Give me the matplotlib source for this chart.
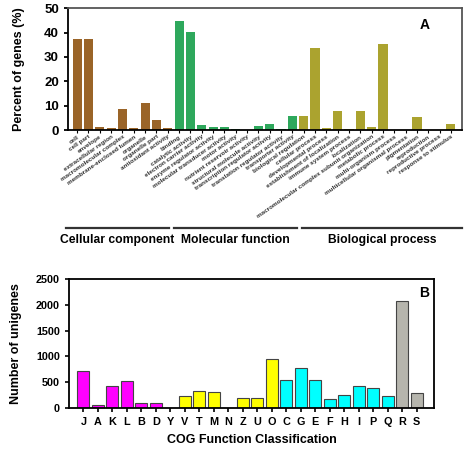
import matplotlib.pyplot as plt
import matplotlib.transforms as mtransforms

plt.rcParams['font.family'] = ['Liberation Sans', 'DejaVu Sans']
plt.rcParams['font.weight'] = 'bold'
plt.rcParams['axes.labelweight'] = 'bold'

# ---- panel A data: GO classification ----
go_terms = ['cell', 'cell part', 'envelope', 'extracellular region',
            'macromolecular complex', 'membrane-enclosed lumen', 'organelle',
            'organelle part', 'antioxidant activity', 'binding',
            'catalytic activity', 'electron carrier activity',
            'enzyme regulator activity', 'molecular transducer activity',
            'motor activity', 'nutrient reservoir activity',
            'structural molecule activity', 'transcription regulator activity',
            'translation regulator activity', 'transporter activity',
            'biological regulation', 'cellular process', 'developmental process',
            'establishment of localization', 'immune system process',
            'localization', 'macromolecular complex subunit organization',
            'metabolic process', 'multi-organism process',
            'multicellular organismal process', 'pigmentation', 'reproduction',
            'reproductive process', 'response to stimulus']
go_percent = [37.3, 37.3, 1.2, 0.7, 8.8, 0.7, 11.1, 4.1, 0.7, 44.8,
              40.3, 2.0, 1.1, 1.1, 0.5, 0.2, 1.6, 2.3, 0.5, 5.6,
              5.6, 33.6, 0.8, 7.7, 0.4, 7.8, 1.1, 35.3, 0.1, 0.1,
              5.2, 0.1, 0.1, 2.6]
go_group = ['C'] * 9 + ['M'] * 11 + ['B'] * 14
go_colors = {'C': '#9a6428', 'M': '#2ea85c', 'B': '#aba32f'}
group_names = ['Cellular component', 'Molecular function', 'Biological process']

# ---- panel B data: COG classification ----
cog_letters = ['J', 'A', 'K', 'L', 'B', 'D', 'Y', 'V', 'T', 'M', 'N', 'Z',
               'U', 'O', 'C', 'G', 'E', 'F', 'H', 'I', 'P', 'Q', 'R', 'S']
cog_counts = [714, 52, 428, 526, 97, 84, 0, 234, 318, 299, 0, 195,
              182, 948, 539, 779, 545, 175, 253, 416, 383, 227, 2084, 292]
cog_group = ['i'] * 6 + ['c'] * 8 + ['m'] * 8 + ['p'] * 2
cog_colors = {'i': '#ff00ff', 'c': '#ffff00', 'm': '#00ffff', 'p': '#b6b5ad'}

fig = plt.figure(figsize=(4.74, 4.62), dpi=100)

# panel A
ax1 = fig.add_axes([0.1435, 0.7186, 0.8306, 0.2634])
x1 = list(range(len(go_terms)))
ax1.bar(x1, go_percent, width=0.8, color=[go_colors[g] for g in go_group])
ax1.set_xlim(-0.8, 33.95)
ax1.set_ylim(0, 50)
ax1.set_yticks([0, 10, 20, 30, 40, 50])
ax1.tick_params(axis='y', labelsize=9.5, width=1.3, length=3)
ax1.set_xticks(x1)
ax1.set_xticklabels(go_terms, rotation=35, ha='right', rotation_mode='anchor',
                    fontsize=4.6, color='#333333')
ax1.tick_params(axis='x', length=2, width=0.8, pad=1)
ax1.set_ylabel('Percent of genes (%)', fontsize=9, labelpad=14)
for s in ['top', 'right']:
    ax1.spines[s].set_color('#555555')
    ax1.spines[s].set_linewidth(1.3)
ax1.spines['left'].set_linewidth(1.3)
ax1.spines['bottom'].set_linewidth(1.3)
ax1.text(0.907, 0.86, 'A', transform=ax1.transAxes, fontsize=10,
         ha='center', va='center')

# group bars under panel A
trans = mtransforms.blended_transform_factory(ax1.transData, ax1.transAxes)
spans = [(-0.95, 8.1), (8.55, 19.4), (19.85, 34.0)]
for (a, b), name in zip(spans, group_names):
    ax1.plot([a, b], [-0.805, -0.805], color='#333333', lw=1.6,
             transform=trans, clip_on=False)
    ax1.text((a + b) / 2, -0.9, name, transform=trans, ha='center',
             va='center', fontsize=8.7)

# panel B
ax2 = fig.add_axes([0.1456, 0.1175, 0.770, 0.278])
x2 = list(range(len(cog_letters)))
ax2.bar(x2, cog_counts, width=0.84, color=[cog_colors[g] for g in cog_group],
        edgecolor='#444444', linewidth=0.8)
ax2.set_xlim(-0.99, 24.2)
ax2.set_ylim(0, 2500)
ax2.set_yticks([0, 500, 1000, 1500, 2000, 2500])
ax2.set_xticks(x2)
ax2.set_xticklabels(cog_letters, fontsize=7.5)
ax2.tick_params(axis='both', width=1.2, length=3, labelsize=7.8)
ax2.set_ylabel('Number of unigenes', fontsize=9, labelpad=10)
ax2.set_xlabel('COG Function Classification', fontsize=9, labelpad=5)
for s in ax2.spines.values():
    s.set_linewidth(1.3)
ax2.text(0.973, 0.89, 'B', transform=ax2.transAxes, fontsize=10,
         ha='center', va='center')

fig.savefig('out.png', dpi=100)
